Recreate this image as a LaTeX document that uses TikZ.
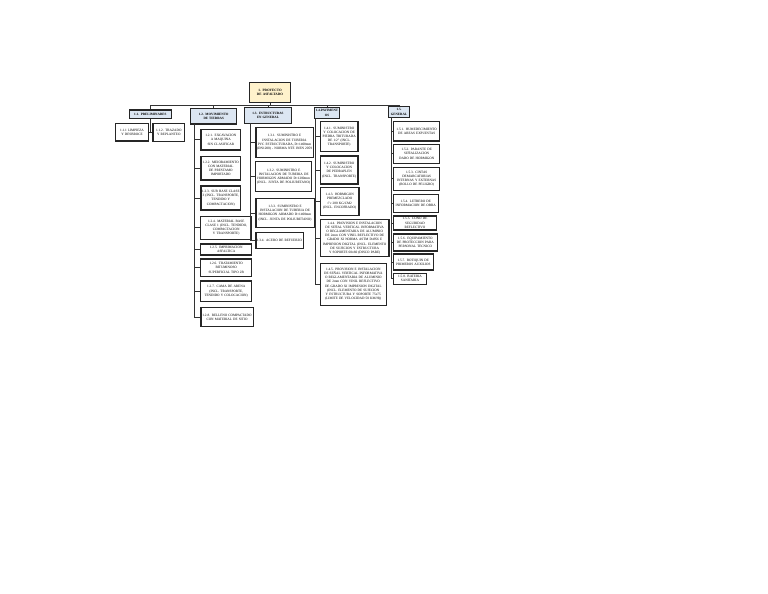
\documentclass[tikz,border=0pt]{standalone}
\usepackage{fontspec}
\setmainfont{Liberation Serif}
\usepackage{tikz}
\usetikzlibrary{positioning}

\hyphenpenalty=10000
\exhyphenpenalty=10000

\definecolor{rootfill}{HTML}{FFF2CC}
\definecolor{grpfill}{HTML}{DCE6F2}

\tikzset{
	wbs/.style={draw=black!85, line width=1.1pt, fill=white, align=center,
		inner sep=0.8pt, font=\fontsize{3.4}{4.2}\selectfont},
	rootbox/.style={wbs, fill=rootfill, font=\fontsize{3.4}{4.6}\selectfont\bfseries},
	grpbox/.style={wbs, fill=grpfill, font=\fontsize{3.3}{4.4}\selectfont\bfseries},
	link/.style={draw=black!80, line width=0.8pt}
}

\begin{document}
\begin{tikzpicture}[x=1pt, y=-1pt]
		\useasboundingbox (0,0) rectangle (768,594);

		% levels 1 and 2
		\node[rootbox, text width=39pt, minimum height=20pt] (root) at (270,92.5) {1. PROYECTO DE ASFALTADO};
		\node[grpbox, text width=40pt, minimum height=8.5pt] (g11) at (150.3,114.2) {1.1. PRELIMINARES};
		\node[grpbox, text width=44pt, minimum height=15.5pt] (g12) at (213.7,116.2) {1.2. MOVIMIENTO DE TIERRAS};
		\node[grpbox, text width=45pt, minimum height=16pt] (g13) at (268,115.3) {1.3. ESTRUCTURAS EN GENERAL};
		\node[grpbox, text width=24pt, minimum height=11pt] (g14) at (327,112.8) {1.4.PAVIMENT\\OS};
		\node[grpbox, text width=19pt, minimum height=10.5pt] (g15) at (399,112) {1.5.\\GENERAL};

		% 1.1
		\node[wbs, text width=32pt, minimum height=17.5pt] (c111) at (132,132.2) {1.1.1 LIMPIEZA Y DESBROCE};
		\node[wbs, text width=30pt, minimum height=18pt] (c112) at (168.8,132.5) {1.1.2. TRAZADO Y REPLANTEO};

		% 1.2
		\node[wbs, text width=38pt, minimum height=20.5pt] (c121) at (220.8,139.7) {1.2.1. EXCAVACION A MAQUINA SIN CLASIFICAR};
		\node[wbs, text width=38pt, minimum height=23.3pt] (c122) at (220.8,168.3) {1.2.2. MEJORAMIENTO CON MATERIAL DE PRESTAMO IMPORTADO};
		\node[wbs, text width=38pt, minimum height=24pt] (c123) at (220.8,198) {1.2.3. SUB BASE CLASE 3 (INCL. TRANSPORTE, TENDIDO Y COMPACTACION)};
		\node[wbs, text width=49pt, minimum height=23.3pt] (c124) at (226.2,227.7) {1.2.4. MATERIAL BASE CLASE 1 (INCL. TENDIDO, COMPACTACION Y TRANSPORTE)};
		\node[wbs, text width=49pt, minimum height=11pt] (c125) at (226.2,249.5) {1.2.5. IMPRIMACION ASFALTICA};
		\node[wbs, text width=49pt, minimum height=17.7pt] (c126) at (226.2,267.8) {1.2.6. TRATAMIENTO BITUMINOSO SUPERFICIAL TIPO 2B};
		\node[wbs, text width=49pt, minimum height=20.7pt] (c127) at (226.2,291.3) {1.2.7. CAMA DE ARENA (INCL. TRANSPORTE, TENDIDO Y COLOCACION)};
		\node[wbs, text width=50.5pt, minimum height=19pt] (c128) at (227,317.2) {1.2.8. RELLENO COMPACTADO CON MATERIAL DE SITIO};

		% 1.3
		\node[wbs, text width=55.5pt, minimum height=29.7pt] (c131) at (284.5,142.5) {1.3.1. SUMINISTRO E INSTALACION DE TUBERIA PVC ESTRUCTURADA, D=1400mm (DN1200) - NORMA NTE INEN 2059};
		\node[wbs, text width=54pt, minimum height=30pt] (c132) at (283.7,176.7) {1.3.2. SUMINISTRO E INSTALACION DE TUBERIA DE HORMIGON ARMADO D=1200mm (INCL. JUNTA DE POLIURETANO)};
		\node[wbs, text width=56.5pt, minimum height=29.3pt] (c133) at (285,213) {1.3.3. SUMINISTRO E INSTALACION DE TUBERIA DE HORMIGON ARMADO D=1400mm (INCL. JUNTA DE POLIURETANO)};
		\node[wbs, text width=45.5pt, minimum height=15.7pt] (c134) at (279.5,240.5) {1.3.4. ACERO DE REFUERZO};

		% 1.4
		\node[wbs, text width=36pt, minimum height=30pt] (c141) at (339.2,136.7) {1.4.1. SUMINISTRO Y COLOCACION DE PIEDRA TRITURADA DE 1/2'' (INCL. TRANSPORTE)};
		\node[wbs, text width=36pt, minimum height=28pt] (c142) at (339.2,170) {1.4.2. SUMINISTRO Y COLOCACION DE PEDRAPLEN (INCL. TRANSPORTE)};
		\node[wbs, text width=37pt, minimum height=27.7pt] (c143) at (339.7,201.2) {1.4.3. HORMIGON PREMEZCLADO f'c 280 KG/CM2 (INCL. ENCOFRADO)};
		\node[wbs, text width=67pt, minimum height=37.3pt] (c144) at (354.7,238) {1.4.4. PROVISION E INSTALACION DE SEÑAL VERTICAL INFORMATIVA O REGLAMENTARIA DE ALUMINIO DE 2mm CON VINIL REFLECTIVO DE GRADO XI NORMA ASTM D4956 E IMPRESION DIGITAL (INCL. ELEMENTO DE SUJECION Y ESTRUCTURA Y SOPORTE 60x60 (DISCO PARE)};
		\node[wbs, text width=64.5pt, minimum height=41.7pt] (c145) at (353.3,284.2) {1.4.5. PROVISION E INSTALACION DE SEÑAL VERTICAL INFORMATIVA O REGLAMENTARIA DE ALUMINIO DE 2mm CON VINIL REFLECTIVO DE GRADO XI IMPRESION DIGITAL (INCL. ELEMENTO DE SUJECION Y ESTRUCTURA Y SOPORTE 75x75 (LIMITE DE VELOCIDAD 50 KM/H))};

		% 1.5
		\node[wbs, text width=44.5pt, minimum height=19.3pt] (c151) at (416.7,131.3) {1.5.1. HUMEDECIMIENTO DE AREAS EXPUESTAS};
		\node[wbs, text width=44.5pt, minimum height=19pt] (c152) at (416.7,153.8) {1.5.2. PARANTE DE SEÑALIZACION DADO DE HORMIGON};
		\node[wbs, text width=44.5pt, minimum height=22.7pt] (c153) at (416.7,178.7) {1.5.3. CINTAS DEMARCATORIAS INTERNAS Y EXTERNAS (ROLLO DE PELIGRO)};
		\node[wbs, text width=43pt, minimum height=18.3pt] (c154) at (415.8,203.2) {1.5.4. LETRERO DE INFORMACION DE OBRA};
		\node[wbs, text width=41pt, minimum height=14pt] (c155) at (415,223) {1.5.5. CONO DE SEGURIDAD REFLECTIVO};
		\node[wbs, text width=42pt, minimum height=17pt] (c156) at (415.3,242.5) {1.5.6. EQUIPAMIENTO DE PROTECCION PARA PERSONAL TECNICO};
		\node[wbs, text width=38pt, minimum height=16pt] (c157) at (413.3,262) {1.5.7. BOTIQUIN DE PRIMEROS AUXILIOS};
		\node[wbs, text width=31pt, minimum height=10.7pt] (c158) at (410,278.7) {1.5.8. BATERIA SANITARIA};

		% trunks
		\coordinate (bus) at (270,105);
		\coordinate (t12) at (194.3,124);
		\coordinate (t13) at (250.7,123.3);
		\coordinate (t14) at (315.7,118.3);
		\coordinate (t15) at (391,117.3);

		\draw [link] (root) to (bus);
		\draw [link] (bus) -| (g11);
		\draw [link] (bus) -| (g12);
		\draw [link] (bus) -| (g13);
		\draw [link] (bus) -| (g14);
		\draw [link] (bus) -| (g15);

		\draw [link] (g11.south) |- (c112);
		\draw [link] (c111.east) -- (c111.east -| g11.south);

		\draw [link] (t12) |- (c121);
		\draw [link] (t12) |- (c122);
		\draw [link] (t12) |- (c123);
		\draw [link] (t12) |- (c124);
		\draw [link] (t12) |- (c125);
		\draw [link] (t12) |- (c126);
		\draw [link] (t12) |- (c127);
		\draw [link] (t12) |- (c128);

		\draw [link] (t13) |- (c131);
		\draw [link] (t13) |- (c132);
		\draw [link] (t13) |- (c133);
		\draw [link] (t13) |- (c134);

		\draw [link] (t14) |- (c141);
		\draw [link] (t14) |- (c142);
		\draw [link] (t14) |- (c143);
		\draw [link] (t14) |- (c144);
		\draw [link] (t14) |- (c145);

		\draw [link] (t15) |- (c151);
		\draw [link] (t15) |- (c152);
		\draw [link] (t15) |- (c153);
		\draw [link] (t15) |- (c154);
		\draw [link] (t15) |- (c155);
		\draw [link] (t15) |- (c156);
		\draw [link] (t15) |- (c157);
		\draw [link] (t15) |- (c158);
\end{tikzpicture}
\end{document}
